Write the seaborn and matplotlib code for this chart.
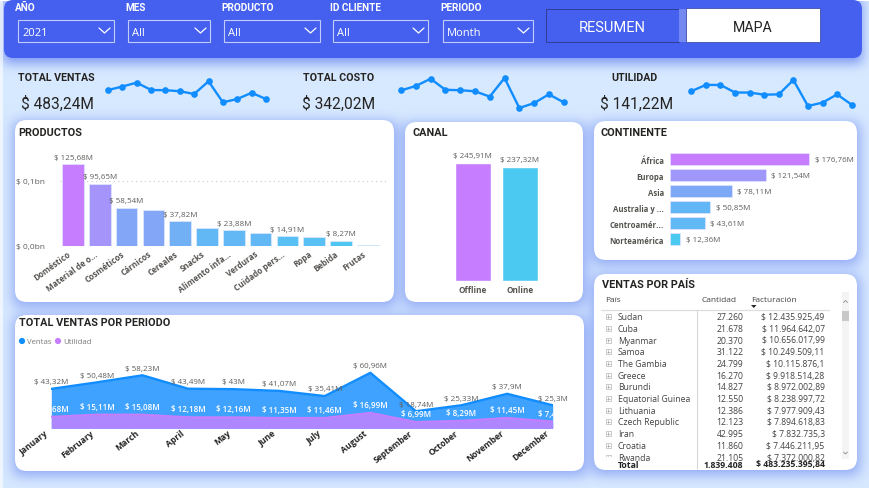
import numpy as np
import pandas as pd
import matplotlib
matplotlib.use("Agg")
import matplotlib.pyplot as plt
from matplotlib.patches import FancyBboxPatch, Rectangle
from matplotlib.transforms import ScaledTranslation
import seaborn as sns

# ---------- data ----------
months = ["January", "February", "March", "April", "May", "June", "July",
          "August", "September", "October", "November", "December"]
ventas = [43.32, 50.48, 58.23, 43.49, 43.0, 41.07, 35.41, 60.96, 18.74, 25.33, 37.9, 25.3]
utilidad = [12.68, 15.11, 15.08, 12.18, 12.16, 11.35, 11.46, 16.99, 6.99, 8.29, 11.45, 7.48]
ventas_lbl = ["$ 43,32M", "$ 50,48M", "$ 58,23M", "$ 43,49M", "$ 43M", "$ 41,07M", "$ 35,41M",
              "$ 60,96M", "$ 18,74M", "$ 25,33M", "$ 37,9M", "$ 25,3M"]
utilidad_lbl = ["$ 12,68M", "$ 15,11M", "$ 15,08M", "$ 12,18M", "$ 12,16M", "$ 11,35M", "$ 11,46M",
                "$ 16,99M", "$ 6,99M", "$ 8,29M", "$ 11,45M", "$ 7,48M"]

productos = ["Doméstico", "Material de o...", "Cosméticos", "Cárnicos", "Cereales", "Snacks",
             "Alimento infa...", "Verduras", "Cuidado pers...", "Ropa", "Bebida", "Frutas"]
productos_val = [125.68, 95.65, 58.54, 55.4, 37.82, 27.7, 23.88, 20.4, 14.91, 13.8, 8.27, 2.3]
productos_lbl = ["$ 125,68M", "$ 95,65M", "$ 58,54M", None, "$ 37,82M", None, "$ 23,88M", None,
                 "$ 14,91M", None, "$ 8,27M", None]
productos_col = ["#C77DFF", "#A594FA", "#83A7F6", "#83A7F6", "#72B0F5", "#62B8F4", "#62B8F4",
                 "#62B8F4", "#58C0F3", "#58C0F3", "#4FC6F1", "#4CC9F0"]
prod_ticks = [0, 100]
prod_tick_lbl = ["$ 0,0bn", "$ 0,1bn"]

canales = ["Offline", "Online"]
canales_val = [245.91, 237.32]
canales_lbl = ["$ 245,91M", "$ 237,32M"]
canales_col = ["#C77DFF", "#4CC9F0"]

continentes = ["África", "Europa", "Asia", "Australia y ...", "Centroamér...", "Norteamérica"]
continentes_val = [176.76, 121.54, 78.11, 50.85, 43.61, 12.36]
continentes_lbl = ["$ 176,76M", "$ 121,54M", "$ 78,11M", "$ 50,85M", "$ 43,61M", "$ 12,36M"]
continentes_col = ["#C77DFF", "#9F97FA", "#7CA8F6", "#62B6F5", "#60B8F5", "#4CC9F0"]

paises = ["Sudan", "Cuba", "Myanmar", "Samoa", "The Gambia", "Greece", "Burundi",
          "Equatorial Guinea", "Lithuania", "Czech Republic", "Iran", "Croatia", "Rwanda"]
cantidad = ["27.260", "21.678", "20.370", "31.122", "24.799", "16.270", "14.827",
            "12.550", "12.386", "12.123", "42.995", "11.860", "21.105"]
facturacion = ["$ 12.435.925,49", "$ 11.964.642,07", "$ 10.656.017,99", "$ 10.249.509,11",
               "$ 10.115.876,1", "$ 9.918.514,28", "$ 8.972.002,89", "$ 8.238.997,72",
               "$ 7.977.909,43", "$ 7.894.618,83", "$ 7.832.735,3", "$ 7.446.211,95",
               "$ 7.372.000,82"]

slicers = [("AÑO", "2021"), ("MES", "All"), ("PRODUCTO", "All"), ("ID CLIENTE", "All"), ("PERIODO", "Month")]

# ---------- setup ----------
sns.set_theme(style="white")
BODY = "Open Sans"
HEAD = "Roboto"
plt.rcParams["font.family"] = [BODY, "DejaVu Sans"]
W, H = 870, 489
GREY = "#5f5e5c"
DARK = "#252423"
LBL = 5.8
fig = plt.figure(figsize=(W / 100, H / 100), dpi=100)

def px_axes(x0, y0, x1, y1, z=2):
    a = fig.add_axes([x0 / W, 1 - y1 / H, (x1 - x0) / W, (y1 - y0) / H], zorder=z)
    a.patch.set_alpha(0)
    for s in a.spines.values():
        s.set_visible(False)
    return a

def shift_labels(labels, dx, dy):
    off = ScaledTranslation(dx / 100, -dy / 100, fig.dpi_scale_trans)
    for lab in labels:
        lab.set_transform(lab.get_transform() + off)

# ---------- page background with soft shadows ----------
cards = [(15, 121, 394, 303), (405, 123, 583, 303), (594, 122, 857, 261),
         (594, 275, 857, 471), (15, 316, 584, 472)]
header = (4, 1, 862, 59)

def blur(m, r):
    k = np.ones(2 * r + 1) / (2 * r + 1)
    for _ in range(3):
        m = np.apply_along_axis(lambda v: np.convolve(np.pad(v, r, mode="edge"), k, "valid"), 0, m)
        m = np.apply_along_axis(lambda v: np.convolve(np.pad(v, r, mode="edge"), k, "valid"), 1, m)
    return m

mask = np.zeros((H, W))
for (a, b, c, d) in cards:
    mask[b + 2:d + 4, a - 1:c + 2] = 1
mask = blur(mask, 6)
hm = np.zeros((H, W))
hm[1:64, 4:862] = 1
hm = blur(hm, 5)
s = np.clip(np.maximum(mask * 1.05, hm * 1.25), 0, 1)[..., None]
base = np.array([215, 233, 255]) / 255
shadow = np.array([140, 165, 245]) / 255
bg = base * (1 - s) + shadow * s
bg[:2, :] = 1
bg[:, :3] = bg[:, :3] * 0.4 + 0.6

ov = fig.add_axes([0, 0, 1, 1], zorder=0)
ov.imshow(bg, extent=(0, W, H, 0), aspect="auto", interpolation="bilinear")
ov.set_xlim(0, W)
ov.set_ylim(H, 0)
ov.axis("off")

def rbox(a, b, c, d, r, **kw):
    ov.add_patch(FancyBboxPatch((a + r, b + r), c - a - 2 * r, d - b - 2 * r,
                                boxstyle=f"round,pad={r},rounding_size={r}", linewidth=0, **kw))

rbox(*header, 9, facecolor="#4560EE")
for c in cards:
    rbox(*c, 12, facecolor="white")

def T(x, y, s, size=6, color=GREY, ha="left", va="center", weight="normal", family=BODY, **kw):
    return ov.text(x, y, s, fontsize=size, color=color, ha=ha, va=va, weight=weight,
                   family=[family, "DejaVu Sans"], **kw)

# ---------- slicers ----------
box_x = [(18, 114), (128, 210), (224, 320), (333, 428), (443, 533)]
lab_x = [15, 125, 221, 330, 440]
for (name, val), (a, b), lx in zip(slicers, box_x, lab_x):
    T(lx, 8, name, size=7.2, color="white", weight="bold", family=HEAD)
    ov.add_patch(Rectangle((a, 21), b - a, 22, fill=False, ec="#c2ccf8", lw=0.8))
    T(a + 4, 34, val, size=8, color="white", family=BODY)
    ov.plot([b - 15, b - 9.5, b - 4], [29, 34, 29], color="white", lw=0.9)

ov.add_patch(Rectangle((546, 10), 133, 33, fc="#4560EE", ec="#2f3d96", lw=0.7))
ov.add_patch(Rectangle((679, 10), 7, 33, fc="#7488f2", ec="none"))
ov.add_patch(Rectangle((686, 9), 134, 34, fc="white", ec="#2f3d96", lw=0.5))
T(612.5, 28, "RESUMEN", size=10.5, color="white", ha="center", family=HEAD)
T(753, 28, "MAPA", size=10.2, color=DARK, ha="center", family=HEAD)

# ---------- KPI + sparklines ----------
arr_v = np.array(ventas)
arr_u = np.array(utilidad)
arr_c = arr_v - arr_u
kpis = [("TOTAL VENTAS", 18, "$ 483,24M", 21, arr_v, 108, 266, 82.3, 103.3),
        ("TOTAL COSTO", 303, "$ 342,02M", 302, arr_c, 401, 563.7, 79, 109),
        ("UTILIDAD", 611, "$ 141,22M", 600, arr_u, 691.3, 851.7, 81, 107)]
for name, tx, value, vx, series, x0, x1, y0, y1 in kpis:
    T(tx, 78, name, size=7.7, color=DARK, weight="bold", family=HEAD)
    T(vx, 103.5, value, size=11.2, color=DARK, family=HEAD)
    a = px_axes(x0, y0, x1, y1)
    d = pd.DataFrame({"i": range(12), "v": series})
    sns.lineplot(data=d, x="i", y="v", ax=a, color="#118DFF", lw=1.7, marker="o", ms=4.8,
                 mew=0, clip_on=False, legend=False)
    a.set_xlim(0, 11)
    a.set_ylim(series.min(), series.max())
    a.set_axis_off()

# ---------- card titles ----------
for x, y, s in [(18, 133.5, "PRODUCTOS"), (413, 133.5, "CANAL"), (601, 133.5, "CONTINENTE"),
                (602, 284.5, "VENTAS POR PAÍS"), (19, 322.5, "TOTAL VENTAS POR PERIODO")]:
    T(x, y, s, size=7.8, color=DARK, weight="bold", family=HEAD)

# ---------- productos ----------
ax = px_axes(59.6, 160, 387, 247)
df = pd.DataFrame({"p": productos, "v": productos_val})
sns.barplot(data=df, x="p", y="v", hue="p", palette=productos_col, dodge=False, legend=False,
            width=0.8, ax=ax, saturation=1, edgecolor="#dfe9ff", linewidth=0.5)
ax.set_xlim(-0.5, 11.716)
ax.set_ylim(0, 133.8)
ax.set_yticks(prod_ticks, prod_tick_lbl, fontsize=6, color=GREY)
ax.tick_params(axis="y", length=0, pad=10.5)
ax.grid(axis="y", color="#c9c9c9", ls=(0, (1, 3)), lw=0.8)
ax.set_axisbelow(True)
ax.set_xlabel("")
ax.set_ylabel("")
ax.set_xticks(range(12))
ax.set_xticklabels(productos, rotation=36, ha="right", rotation_mode="anchor",
                   fontsize=5.9, color="#55534f", weight="bold")
ax.tick_params(axis="x", length=0, pad=3)
shift_labels(ax.get_xticklabels(), -6, -1)
for i, (v, l) in enumerate(zip(productos_val, productos_lbl)):
    if l:
        ax.annotate(l, (i, v), xytext=(0, 5), textcoords="offset points", ha="center",
                    va="center", fontsize=LBL, color=GREY, annotation_clip=False)

# ---------- canal ----------
ax = px_axes(449.3, 155, 543.3, 282)
df = pd.DataFrame({"c": canales, "v": canales_val})
sns.barplot(data=df, x="c", y="v", hue="c", palette=canales_col, legend=False, width=0.76,
            ax=ax, saturation=1, dodge=False)
ax.set_xlim(-0.5, 1.5)
ax.set_ylim(0, 127 / 0.481)
ax.set_yticks([])
ax.set_xlabel("")
ax.set_ylabel("")
ax.set_xticks([0, 1])
ax.set_xticklabels(canales, fontsize=5.9, color="#55534f", weight="bold")
ax.tick_params(axis="x", length=0, pad=3)
for i, (v, l) in enumerate(zip(canales_val, canales_lbl)):
    ax.annotate(l, (i, v), xytext=(0, 5), textcoords="offset points", ha="center",
                va="center", fontsize=LBL, color=GREY, annotation_clip=False)

# ---------- continente ----------
ax = px_axes(670.3, 152.3, 850, 248)
df = pd.DataFrame({"c": continentes, "v": continentes_val})
sns.barplot(data=df, y="c", x="v", hue="c", palette=continentes_col, legend=False, width=0.75,
            ax=ax, saturation=1, dodge=False, orient="h", edgecolor="#e6e4ff", linewidth=0.5)
ax.set_xlim(0, 179.7 / 0.786)
ax.set_xticks([])
ax.set_xlabel("")
ax.set_ylabel("")
ax.set_yticks(range(6))
ax.set_yticklabels(continentes, fontsize=5.6, color="#55534f", weight="bold")
ax.tick_params(axis="y", length=0, pad=4.5)
for i, (v, l) in enumerate(zip(continentes_val, continentes_lbl)):
    ax.annotate(l, (v, i), xytext=(4, -0.5), textcoords="offset points", ha="left",
                va="center", fontsize=LBL, color=GREY, annotation_clip=False)

# ---------- ventas por periodo ----------
ax = px_axes(51.3, 360, 552.7, 429.3)
df = pd.DataFrame({"m": np.arange(12), "Ventas": ventas, "Utilidad": utilidad})
ax.fill_between(df["m"], df["Ventas"], color="#40A2FF", lw=0)
ax.fill_between(df["m"], df["Utilidad"], color="#AE87FF", lw=0)
sns.lineplot(data=df, x="m", y="Ventas", ax=ax, color="#118DFF", lw=1.7, legend=False)
sns.lineplot(data=df, x="m", y="Utilidad", ax=ax, color="#C77DFF", lw=1.4, legend=False)
ax.set_xlim(0, 11)
ax.set_ylim(0, 69.3 / 0.91)
ax.set_yticks([])
ax.set_xlabel("")
ax.set_ylabel("")
ax.set_xticks(range(12))
ax.set_xticklabels(months, rotation=38, ha="right", rotation_mode="anchor", fontsize=6.2,
                   color="#252423", weight="bold")
ax.tick_params(axis="x", length=0, pad=2)
shift_labels(ax.get_xticklabels(), -7, -3)
for i in range(12):
    ax.annotate(ventas_lbl[i], (i, ventas[i]), xytext=(0, 5.2), textcoords="offset points",
                ha="center", va="center", fontsize=LBL, color=GREY, annotation_clip=False)
    ax.annotate(utilidad_lbl[i], (i, utilidad[i]), xytext=(0, 6), textcoords="offset points",
                ha="center", va="center", fontsize=LBL, color="white", clip_on=True,
                weight="semibold", annotation_clip=False)
ov.scatter([22, 58], [342, 342], s=20, c=["#118DFF", "#C77DFF"], lw=0, zorder=3)
T(27, 342, "Ventas", size=5.6, color="#7a7977")
T(63.5, 342, "Utilidad", size=5.6, color="#7a7977")

# ---------- tabla ----------
row_y = [317.7, 329.7, 341, 352.7, 364.7, 376.7, 387.7, 399.7, 411.7, 422.7, 434.7, 446.7, 458.5]
clip = Rectangle((600, 311), 235, 147, transform=ov.transData)
for y, p, c, f in zip(row_y, paises, cantidad, facturacion):
    for t in (T(617.7, y, p, size=6.2, color="#444342"),
              T(743.3, y, c, size=6.2, color="#444342", ha="right"),
              T(824.7, y, f, size=6.2, color="#444342", ha="right")):
        t.set_clip_path(clip)
    ic = Rectangle((605.8, y - 2.4), 5, 5, fc="white", ec="#b5b5b5", lw=0.5)
    ov.add_patch(ic)
    ic.set_clip_path(clip)
    l = ov.plot([606.8, 609.8], [y + 0.1, y + 0.1], color="#8f8f8f", lw=0.4)[0]
    l.set_clip_path(clip)
    l = ov.plot([608.3, 608.3], [y - 1.4, y + 1.6], color="#8f8f8f", lw=0.4)[0]
    l.set_clip_path(clip)
T(605, 300, "País", size=6, color="#444342")
T(701.7, 300, "Cantidad", size=6, color="#444342")
T(751, 300, "Facturación", size=6, color="#444342")
ov.fill([751, 756.5, 753.8], [306, 306, 309], color=DARK, lw=0)
ov.plot([601, 829], [311, 311], color="#dedede", lw=0.9)
ov.plot([697, 697], [311, 470], color="#cfcfcf", lw=0.6)
T(618, 465, "Total", size=6.3, color=DARK, weight="bold")
T(743.3, 465, "1.839.408", size=6.3, color=DARK, weight="bold", ha="right")
T(824.7, 465, "$ 483.235.395,84", size=6.3, color=DARK, weight="bold", ha="right")
ov.add_patch(Rectangle((842.3, 293), 6.4, 167, fc="#f4f4f4", ec="none"))
ov.add_patch(Rectangle((842.3, 311.7), 6.4, 10, fc="#c8c8c8", ec="none"))
ov.plot([843.5, 845.5, 847.5], [303.5, 301.5, 303.5], color="#777777", lw=0.5)
ov.plot([843.5, 845.5, 847.5], [453, 455, 453], color="#777777", lw=0.5)

fig.savefig("out.png", dpi=100)
